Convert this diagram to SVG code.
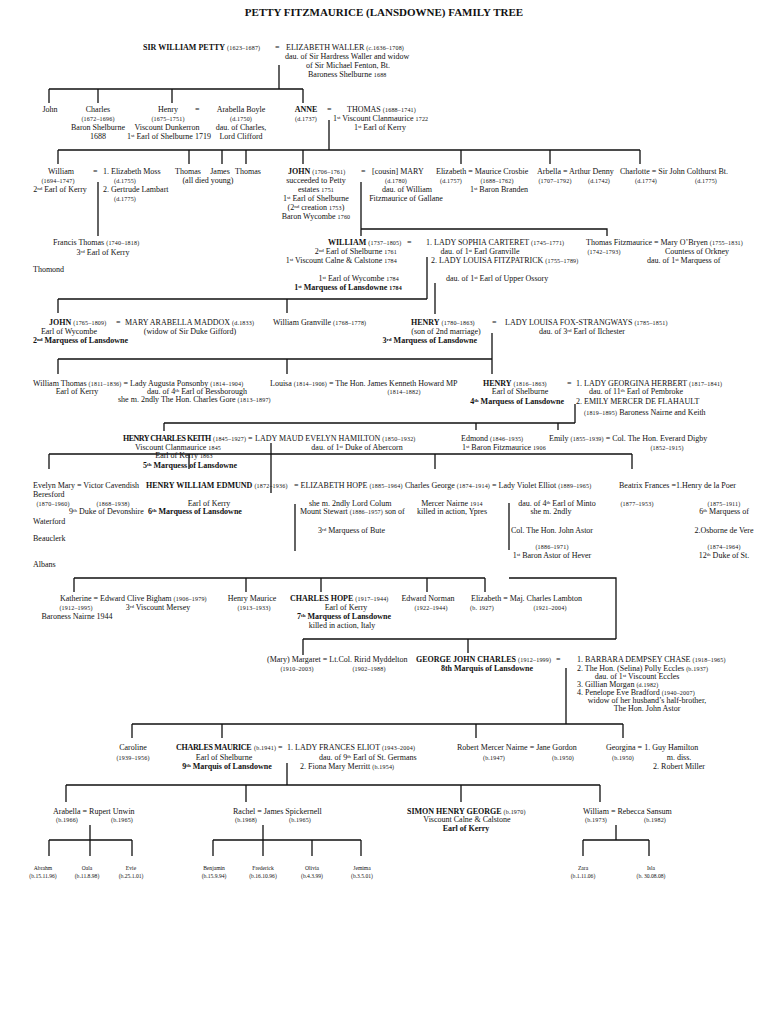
<svg xmlns="http://www.w3.org/2000/svg" width="768" height="1024" viewBox="0 0 768 1024">
<style>
text{font-family:"Liberation Serif","Times New Roman",serif;font-size:8px;fill:#111}
.b{font-weight:bold}
.s{font-size:6px;letter-spacing:0.2px}
.u{font-size:5px;baseline-shift:super}
.m{text-anchor:middle}
.e{text-anchor:end}
.title{font-size:11px;font-weight:bold}
.k{font-size:5.6px}
.c path{stroke:#111;stroke-width:1.3;fill:none}
</style>
<rect width="768" height="1024" fill="#fff"/>
<text x="384" y="16" class="title m">PETTY FITZMAURICE (LANSDOWNE) FAMILY TREE</text>

<g class="c" id="connectors">
<path d="M279 65V89M49 89H303M49 89V103M98 89V103M172 89V103M303 89V103"/>
<path d="M329 120V150M58 150H640M58 150V164M189 150V164M222 150V164M246 150V164M303 150V164M461 150V164M550 150V164M640 150V164"/>
<path d="M98 182V236M361 182V236M361 229H607V236"/>
<path d="M427 257V299M58 299H427M435 283V314M58 299V313M287 299V313"/>
<path d="M492 333V374M58 359H492M58 359V374M287 359V374"/>
<path d="M575 404V423M164 423H575M164 423V431M476 423V430M558 423V430"/>
<path d="M271 443V493M49 454H632M49 454V469M189 454V469M435 454V469M632 454V469"/>
<path d="M295 504V551M509 503V550"/>
<path d="M74 578H485M74 578V592M246 578V592M321 578V592M427 578V592M485 578V592"/>
<path d="M509 578H616V639M303 639H616M303 639V655M468 639V653"/>
<path d="M566 668V724M132 724H623M132 724V738M222 724V738M476 724V738M623 724V738"/>
<path d="M287 763V785M66 785H600M66 785V802M246 785V802M461 785V802M600 785V802"/>
<path d="M90 825V856M49 840H132M49 840V856M132 840V856"/>
<path d="M263 825V856M213 840H361M213 840V856M312 840V856M361 840V856"/>
<path d="M616 825V840M583 840H649M583 840V856M649 840V856"/>
</g>

<g id="petty">
<text x="143" y="50"><tspan class="b">SIR WILLIAM PETTY</tspan> <tspan class="s">(1623–1687)</tspan></text>
<text x="275" y="50">=</text>
<text x="286" y="50">ELIZABETH WALLER <tspan class="s">(c.1636–1708)</tspan></text>
<text x="285" y="59">dau. of Sir Hardress Waller and widow</text>
<text x="306" y="68">of Sir Michael Fenton, Bt.</text>
<text x="308" y="77">Baroness Shelburne <tspan class="s">1688</tspan></text>
</g>

<g id="john1"><text x="50" y="112" class="m">John</text></g>
<g id="charles1">
<text x="98" y="112" class="m">Charles</text>
<text x="98" y="121" class="m s">(1672–1696)</text>
<text x="98" y="130" class="m">Baron Shelburne</text>
<text x="98" y="139" class="m">1688</text>
</g>
<g id="henry1">
<text x="168" y="112" class="m">Henry</text>
<text x="195" y="112">=</text>
<text x="241" y="112" class="m">Arabella Boyle</text>
<text x="168" y="121" class="m s">(1675–1751)</text>
<text x="241" y="121" class="m s">(d.1750)</text>
<text x="167" y="130" class="m">Viscount Dunkerron</text>
<text x="241" y="130" class="m">dau. of Charles,</text>
<text x="169" y="139" class="m">1<tspan class="u">st</tspan> Earl of Shelburne 1719</text>
<text x="241" y="139" class="m">Lord Clifford</text>
</g>
<g id="anne">
<text x="306" y="112" class="m b">ANNE</text>
<text x="306" y="121" class="m s">(d.1737)</text>
<text x="327" y="112">=</text>
<text x="347" y="112">THOMAS <tspan class="s">(1688–1741)</tspan></text>
<text x="333" y="121">1<tspan class="u">st</tspan> Viscount Clanmaurice <tspan class="s">1722</tspan></text>
<text x="380" y="130" class="m">1<tspan class="u">st</tspan> Earl of Kerry</text>
</g>

<g id="william2">
<text x="61" y="174" class="m">William</text>
<text x="58" y="183" class="m s">(1694–1747)</text>
<text x="60" y="192" class="m">2<tspan class="u">nd</tspan> Earl of Kerry</text>
<text x="93" y="174">=</text>
<text x="103" y="174">1. Elizabeth  Moss</text>
<text x="125" y="183" class="m s">(d.1755)</text>
<text x="103" y="192">2. Gertrude Lambart</text>
<text x="125" y="201" class="m s">(d.1775)</text>
</g>
<g id="francis">
<text x="53" y="245">Francis Thomas <tspan class="s">(1740–1818)</tspan></text>
<text x="103" y="255" class="m">3<tspan class="u">rd</tspan> Earl of Kerry</text>
</g>
<g id="young">
<text x="188" y="174" class="m">Thomas</text>
<text x="220" y="174" class="m">James</text>
<text x="248" y="174" class="m">Thomas</text>
<text x="208" y="183" class="m">(all died young)</text>
</g>
<g id="john3">
<text x="288" y="174"><tspan class="b">JOHN</tspan> <tspan class="s">(1706–1761)</tspan></text>
<text x="361" y="174">=</text>
<text x="372" y="174">[cousin] MARY</text>
<text x="316" y="183" class="m">succeeded to Petty</text>
<text x="316" y="192" class="m">estates <tspan class="s">1751</tspan></text>
<text x="316" y="201" class="m">1<tspan class="u">st</tspan> Earl of Shelburne</text>
<text x="316" y="210" class="m">(2<tspan class="u">nd</tspan> creation <tspan class="s">1753</tspan>)</text>
<text x="316" y="219" class="m">Baron Wycombe <tspan class="s">1760</tspan></text>
<text x="396" y="183" class="m s">(d.1780)</text>
<text x="407" y="192" class="m">dau. of William</text>
<text x="406" y="201" class="m">Fitzmaurice of Gallane</text>
</g>
<g id="sisters">
<text x="436" y="174">Elizabeth = Maurice Crosbie</text>
<text x="451" y="183" class="m s">(d.1757)</text>
<text x="497" y="183" class="m s">(1688–1762)</text>
<text x="499" y="192" class="m">1<tspan class="u">st</tspan> Baron Branden</text>
<text x="537" y="174">Arbella = Arthur Denny</text>
<text x="555" y="183" class="m s">(1707–1792)</text>
<text x="599" y="183" class="m s">(d.1742)</text>
<text x="620" y="174">Charlotte = Sir John Colthurst Bt.</text>
<text x="646" y="183" class="m s">(d.1774)</text>
<text x="706" y="183" class="m s">(d.1775)</text>
</g>

<g id="william3">
<text x="328" y="245"><tspan class="b">WILLIAM</tspan> <tspan class="s">(1737–1805)</tspan></text>
<text x="407" y="245">=</text>
<text x="397" y="254" class="e">2<tspan class="u">nd</tspan> Earl of Shelburne <tspan class="s">1761</tspan></text>
<text x="397" y="263" class="e">1<tspan class="u">st</tspan> Viscount Calne &amp; Calstone <tspan class="s">1784</tspan></text>
<text x="399" y="281" class="e">1<tspan class="u">st</tspan> Earl of Wycombe <tspan class="s">1784</tspan></text>
<text x="402" y="290" class="e b">1<tspan class="u">st</tspan> Marquess of Lansdowne <tspan class="s">1784</tspan></text>
<text x="426" y="245">1. LADY SOPHIA CARTERET <tspan class="s">(1745–1771)</tspan></text>
<text x="480" y="254" class="m">dau. of 1<tspan class="u">st</tspan> Earl Granville</text>
<text x="431" y="263">2. LADY LOUISA FITZPATRICK <tspan class="s">(1755–1789)</tspan></text>
<text x="446" y="281">dau. of 1<tspan class="u">st</tspan> Earl of Upper Ossory</text>
</g>
<g id="thomasfitz">
<text x="586" y="245">Thomas Fitzmaurice = Mary O’Bryen <tspan class="s">(1755–1831)</tspan></text>
<text x="604" y="254" class="m s">(1742–1793)</text>
<text x="697" y="254" class="m">Countess of Orkney</text>
<text x="647" y="263">dau. of 1<tspan class="u">st</tspan> Marquess of</text>
<text x="33" y="272">Thomond</text>
</g>

<g id="john4">
<text x="49" y="325"><tspan class="b">JOHN</tspan> <tspan class="s">(1765–1809)</tspan></text>
<text x="116" y="325">=</text>
<text x="125" y="325">MARY ARABELLA MADDOX <tspan class="s">(d.1833)</tspan></text>
<text x="69" y="334" class="m">Earl of Wycombe</text>
<text x="190" y="334" class="m">(widow of Sir Duke Gifford)</text>
<text x="33" y="343" class="b">2<tspan class="u">nd</tspan> Marquess of Lansdowne</text>
</g>
<g id="wgranville">
<text x="273" y="325">William Granville <tspan class="s">(1768–1778)</tspan></text>
</g>
<g id="henry3">
<text x="411" y="325"><tspan class="b">HENRY</tspan> <tspan class="s">(1780–1863)</tspan></text>
<text x="492" y="325">=</text>
<text x="505" y="325">LADY LOUISA FOX-STRANGWAYS <tspan class="s">(1785–1851)</tspan></text>
<text x="446" y="334" class="m">(son of 2nd marriage)</text>
<text x="582" y="334" class="m">dau. of 3<tspan class="u">rd</tspan> Earl of Ilchester</text>
<text x="477" y="343" class="e b">3<tspan class="u">rd</tspan> Marquess of Lansdowne</text>
</g>

<g id="wthomas">
<text x="33" y="386">William Thomas <tspan class="s">(1811–1836)</tspan>  =  Lady Augusta Ponsonby <tspan class="s">(1814–1904)</tspan></text>
<text x="77" y="394" class="m">Earl of Kerry</text>
<text x="197" y="394" class="m">dau. of 4<tspan class="u">th</tspan> Earl of Bessborough</text>
<text x="118" y="402">she m. 2ndly The Hon. Charles Gore <tspan class="s">(1813–1897)</tspan></text>
</g>
<g id="louisa">
<text x="270" y="386">Louisa <tspan class="s">(1814–1906)</tspan> = The Hon. James Kenneth Howard MP</text>
<text x="404" y="394" class="m s">(1814–1882)</text>
</g>
<g id="henry4">
<text x="483" y="386"><tspan class="b">HENRY</tspan> <tspan class="s">(1816–1863)</tspan></text>
<text x="567" y="386">=</text>
<text x="576" y="386">1. LADY GEORGINA HERBERT <tspan class="s">(1817–1841)</tspan></text>
<text x="520" y="394" class="m">Earl of Shelburne</text>
<text x="636" y="394" class="m">dau. of 11<tspan class="u">th</tspan> Earl of Pembroke</text>
<text x="564" y="404" class="e b">4<tspan class="u">th</tspan> Marquess of Lansdowne</text>
<text x="576" y="404">2. EMILY MERCER DE FLAHAULT</text>
<text x="584" y="415"><tspan class="s">(1819–1895)</tspan> Baroness Nairne and Keith</text>
</g>

<g id="hck">
<text x="123" y="441" class="b" style="letter-spacing:-0.5px">HENRY CHARLES KEITH</text>
<text x="213" y="441" class="s">(1845–1927)</text>
<text x="248" y="441">=</text>
<text x="255" y="441">LADY MAUD EVELYN HAMILTON <tspan class="s">(1850–1932)</tspan></text>
<text x="178" y="450" class="m">Viscount Clanmaurice <tspan class="s">1845</tspan></text>
<text x="357" y="450" class="m">dau. of 1<tspan class="u">st</tspan> Duke of Abercorn</text>
<text x="184" y="458" class="m">Earl of Kerry <tspan class="s">1863</tspan></text>
<text x="190" y="468" class="m b">5<tspan class="u">th</tspan> Marquess of Lansdowne</text>
</g>
<g id="edmond">
<text x="461" y="441">Edmond <tspan class="s">(1846–1935)</tspan></text>
<text x="462" y="450">1<tspan class="u">st</tspan> Baron Fitzmaurice <tspan class="s">1906</tspan></text>
</g>
<g id="emily">
<text x="549" y="441">Emily <tspan class="s">(1855–1939)</tspan>  =  Col. The Hon. Everard Digby</text>
<text x="667" y="450" class="m s">(1852–1915)</text>
</g>

<g id="evelyn">
<text x="33" y="488">Evelyn Mary = Victor Cavendish</text>
<text x="33" y="497">Beresford</text>
<text x="53" y="506" class="m s">(1870–1960)</text>
<text x="113" y="506" class="m s">(1868–1938)</text>
<text x="69" y="514">9<tspan class="u">th</tspan> Duke of Devonshire</text>
</g>
<g id="hwe">
<text x="146" y="488"><tspan class="b">HENRY WILLIAM EDMUND</tspan> <tspan class="s">(1872–1936)</tspan></text>
<text x="209" y="506" class="m">Earl of Kerry</text>
<text x="148" y="514" class="b">6<tspan class="u">th</tspan> Marquess of Lansdowne</text>
</g>
<g id="hope">
<text x="294" y="488">= ELIZABETH HOPE <tspan class="s">(1885–1964)</tspan></text>
<text x="309" y="506">she m. 2ndly Lord Colum</text>
<text x="300" y="514">Mount Stewart <tspan class="s">(1886–1957)</tspan> son of</text>
<text x="318" y="533">3<tspan class="u">rd</tspan> Marquess of Bute</text>
</g>
<g id="cgeorge">
<text x="405" y="488">Charles George <tspan class="s">(1874–1914)</tspan> = Lady Violet Elliot <tspan class="s">(1889–1965)</tspan></text>
<text x="452" y="506" class="m">Mercer Nairne <tspan class="s">1914</tspan></text>
<text x="452" y="514" class="m">killed in action, Ypres</text>
<text x="557" y="506" class="m">dau. of 4<tspan class="u">th</tspan> Earl of Minto</text>
<text x="551" y="514" class="m">she m. 2ndly</text>
<text x="552" y="533" class="m">Col. The Hon. John Astor</text>
<text x="552" y="549" class="m s">(1886–1971)</text>
<text x="552" y="558" class="m">1<tspan class="u">st</tspan> Baron Astor of Hever</text>
</g>
<g id="beatrix">
<text x="619" y="488">Beatrix Frances =1.Henry de la Poer</text>
<text x="637" y="506" class="m s">(1877–1953)</text>
<text x="724" y="506" class="m s">(1875–1911)</text>
<text x="724" y="514" class="m">6<tspan class="u">th</tspan> Marquess of</text>
<text x="724" y="533" class="m">2.Osborne de Vere</text>
<text x="724" y="549" class="m s">(1874–1964)</text>
<text x="724" y="558" class="m">12<tspan class="u">th</tspan> Duke of St.</text>
<text x="33" y="524">Waterford</text>
<text x="33" y="541">Beauclerk</text>
<text x="33" y="567">Albans</text>
</g>

<g id="katherine">
<text x="60" y="601">Katherine  = Edward Clive Bigham <tspan class="s">(1906–1979)</tspan></text>
<text x="76" y="610" class="m s">(1912–1995)</text>
<text x="158" y="610" class="m">3<tspan class="u">rd</tspan> Viscount Mersey</text>
<text x="77" y="619" class="m">Baroness Nairne 1944</text>
</g>
<g id="hmaurice">
<text x="252" y="601" class="m">Henry Maurice</text>
<text x="254" y="610" class="m s">(1913–1933)</text>
</g>
<g id="charleshope">
<text x="290" y="601"><tspan class="b">CHARLES HOPE</tspan> <tspan class="s">(1917–1944)</tspan></text>
<text x="346" y="610" class="m">Earl of Kerry</text>
<text x="344" y="619" class="m b">7<tspan class="u">th</tspan> Marquess of Lansdowne</text>
<text x="342" y="628" class="m">killed in action, Italy</text>
</g>
<g id="enorman">
<text x="428" y="601" class="m">Edward Norman</text>
<text x="431" y="610" class="m s">(1922–1944)</text>
</g>
<g id="elizabeth">
<text x="471" y="601">Elizabeth =  Maj. Charles Lambton</text>
<text x="482" y="610" class="m s">(b. 1927)</text>
<text x="550" y="610" class="m s">(1921–2004)</text>
</g>

<g id="margaret">
<text x="267" y="662">(Mary) Margaret = Lt.Col. Ririd Myddelton</text>
<text x="297" y="671" class="m s">(1910–2003)</text>
<text x="369" y="671" class="m s">(1902–1988)</text>
</g>
<g id="gjc">
<text x="416" y="662"><tspan class="b">GEORGE JOHN CHARLES</tspan> <tspan class="s">(1912–1999)</tspan></text>
<text x="556" y="662">=</text>
<text x="577" y="662">1. BARBARA DEMPSEY CHASE <tspan class="s">(1918–1965)</tspan></text>
<text x="487" y="671" class="m b">8th Marquis of Lansdowne</text>
<text x="577" y="671">2. The Hon. (Selina) Polly Eccles <tspan class="s">(b.1937)</tspan></text>
<text x="637" y="679" class="m">dau. of 1<tspan class="u">st</tspan> Viscount Eccles</text>
<text x="577" y="687">3. Gillian Morgan  <tspan class="s">(d.1982)</tspan></text>
<text x="577" y="695">4. Penelope Eve Bradford <tspan class="s">(1940–2007)</tspan></text>
<text x="647" y="703" class="m">widow of her husband’s half-brother,</text>
<text x="647" y="711" class="m">The Hon. John Astor</text>
</g>

<g id="caroline">
<text x="133" y="750" class="m">Caroline</text>
<text x="133" y="760" class="m s">(1939–1956)</text>
</g>
<g id="cmaurice">
<text x="176" y="750" class="b" style="letter-spacing:-0.3px">CHARLES MAURICE</text>
<text x="254" y="750" class="s">(b.1941)</text>
<text x="278" y="750">=</text>
<text x="287" y="750">1. LADY FRANCES ELIOT <tspan class="s">(1943–2004)</tspan></text>
<text x="224" y="760" class="m">Earl of Shelburne</text>
<text x="319" y="760">dau. of 9<tspan class="u">th</tspan> Earl of St. Germans</text>
<text x="227" y="769" class="m b">9<tspan class="u">th</tspan> Marquis of Lansdowne</text>
<text x="300" y="769">2. Fiona Mary Merritt <tspan class="s">(b.1954)</tspan></text>
</g>
<g id="robert">
<text x="457" y="750">Robert Mercer Nairne  =  Jane Gordon</text>
<text x="494" y="760" class="m s">(b.1947)</text>
<text x="563" y="760" class="m s">(b.1950)</text>
</g>
<g id="georgina">
<text x="606" y="750">Georgina  =   1. Guy Hamilton</text>
<text x="623" y="760" class="m s">(b.1950)</text>
<text x="679" y="760" class="m">m. diss.</text>
<text x="679" y="769" class="m">2. Robert Miller</text>
</g>

<g id="arabella">
<text x="53" y="814">Arabella  =  Rupert Unwin</text>
<text x="67" y="822" class="m s">(b.1966)</text>
<text x="122" y="822" class="m s">(b.1965)</text>
</g>
<g id="rachel">
<text x="233" y="814">Rachel  =  James Spickernell</text>
<text x="246" y="822" class="m s">(b.1968)</text>
<text x="300" y="822" class="m s">(b.1965)</text>
</g>
<g id="simon">
<text x="407" y="814"><tspan class="b">SIMON HENRY GEORGE</tspan> <tspan class="s">(b.1970)</tspan></text>
<text x="467" y="822" class="m">Viscount Calne &amp; Calstone</text>
<text x="466" y="831" class="m b">Earl of Kerry</text>
</g>
<g id="william5">
<text x="583" y="814">William  =  Rebecca Sansum</text>
<text x="596" y="822" class="m s">(b.1973)</text>
<text x="655" y="822" class="m s">(b.1982)</text>
</g>

<g id="grandchildren">
<g id="abrahm"><text x="43" y="870" class="m k">Abrahm</text><text x="43" y="878" class="m k">(b.15.11.96)</text></g>
<g id="oala"><text x="87" y="870" class="m k">Oala</text><text x="87" y="878" class="m k">(b.11.8.98)</text></g>
<g id="evie"><text x="131" y="870" class="m k">Evie</text><text x="131" y="878" class="m k">(b.25.1.01)</text></g>
<g id="benjamin"><text x="214" y="870" class="m k">Benjamin</text><text x="214" y="878" class="m k">(b.15.9.94)</text></g>
<g id="frederick"><text x="263" y="870" class="m k">Frederick</text><text x="263" y="878" class="m k">(b.16.10.96)</text></g>
<g id="olivia"><text x="312" y="870" class="m k">Olivia</text><text x="312" y="878" class="m k">(b.4.3.99)</text></g>
<g id="jemima"><text x="362" y="870" class="m k">Jemima</text><text x="362" y="878" class="m k">(b.3.5.01)</text></g>
<g id="zara"><text x="583" y="870" class="m k">Zara</text><text x="583" y="878" class="m k">(b.1.11.06)</text></g>
<g id="isla"><text x="651" y="870" class="m k">Isla</text><text x="651" y="878" class="m k">(b. 30.08.08)</text></g>
</g>
</svg>
